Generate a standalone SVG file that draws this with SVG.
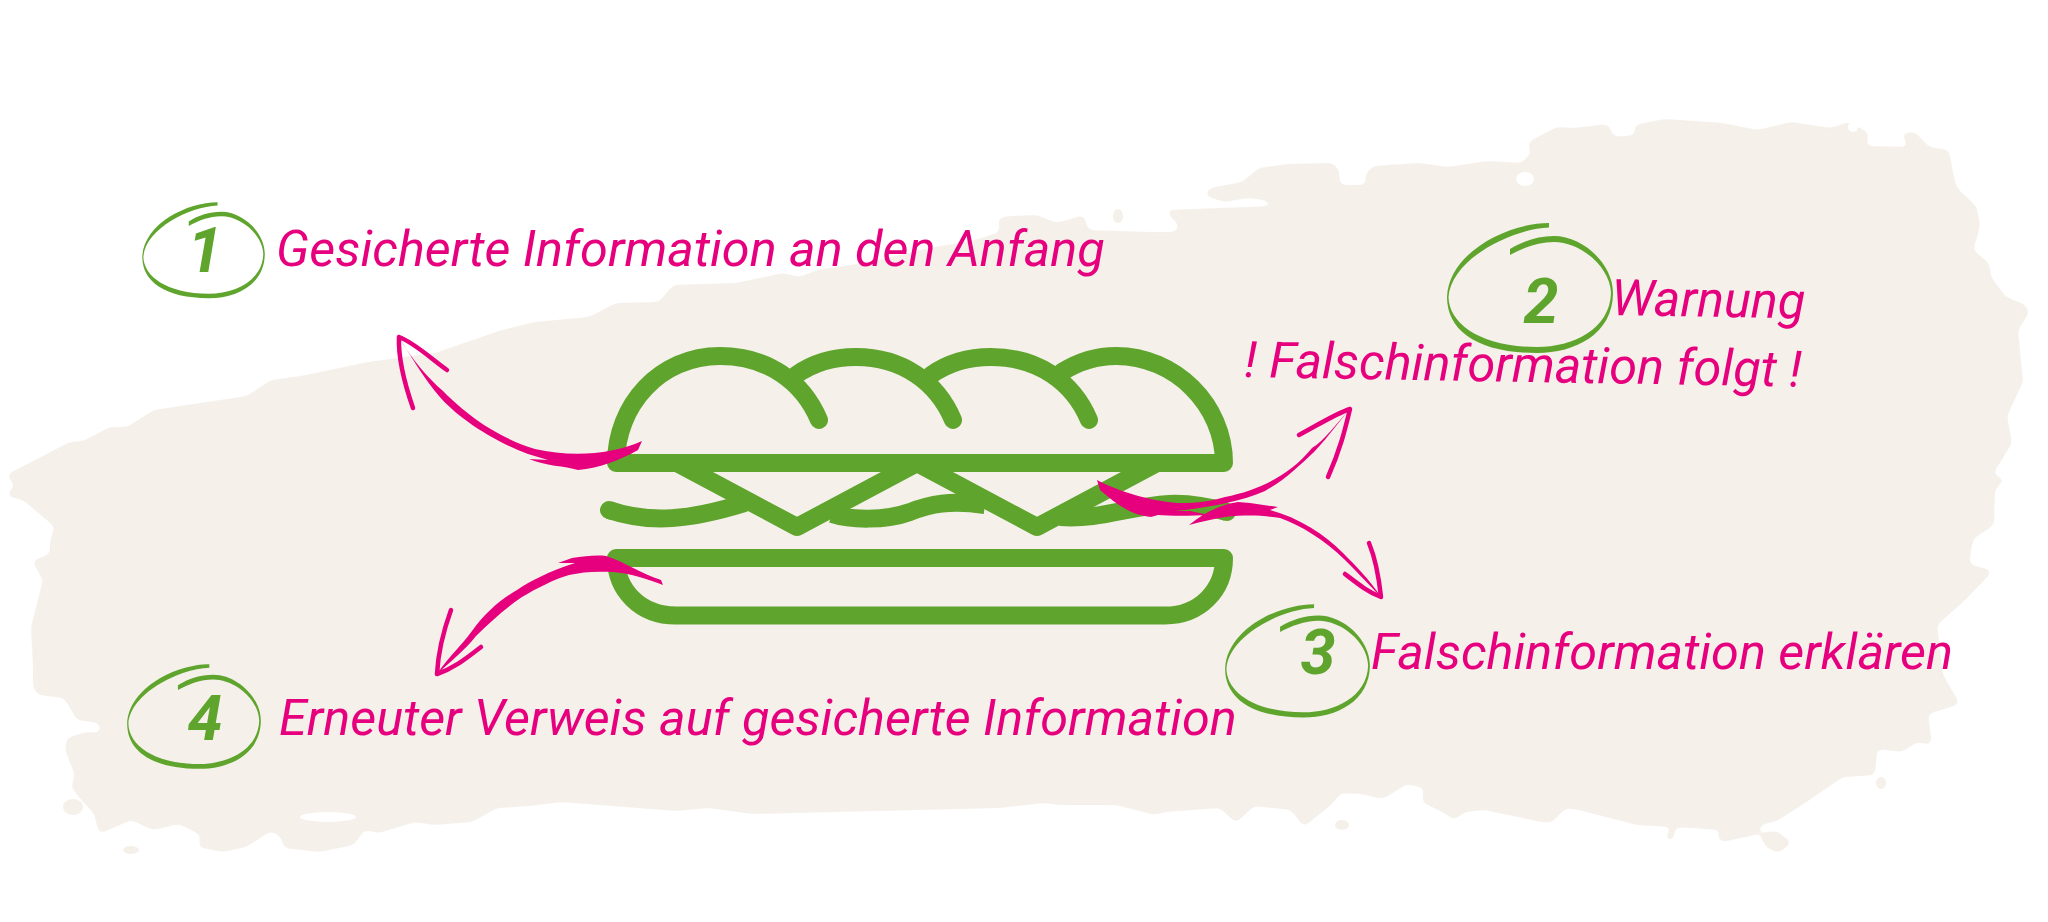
<svg xmlns="http://www.w3.org/2000/svg" xmlns:xlink="http://www.w3.org/1999/xlink" width="2048" height="922" viewBox="0 0 2048 922">
<style>
.lbl{font-family:"Roboto","Liberation Sans",sans-serif;font-style:italic;font-weight:400;font-size:50.4px;fill:#e6007e}
.num{font-family:"Roboto","Liberation Sans",sans-serif;font-style:italic;font-weight:700;font-size:63px;fill:#5fa52d;text-anchor:middle}
.ring{fill:#5fa52d}
.sw{fill:none;stroke:#5fa52d;stroke-width:18;stroke-linecap:round;stroke-linejoin:round}
.sb{stroke-linecap:butt}
.head{fill:none;stroke:#e6007e;stroke-width:4.5;stroke-linecap:round}
.blade{fill:#e6007e}
.bg{fill:#f5f0ea}
</style>
<defs>
<filter id="smooth" x="-2%" y="-2%" width="104%" height="104%" color-interpolation-filters="sRGB"><feGaussianBlur stdDeviation="3"/><feComponentTransfer><feFuncA type="linear" slope="8" intercept="-3.5"/></feComponentTransfer></filter>
<path id="ringshape" d="M101,-1 C60,-1 1,28 -1,73 C-1,107 30,129 89,129 C127,129 165,110 165,69 C165,40 135,12 106,12 C90,12 75,17 62,25 L62,31 C75,24 90,18 106,18 C132,18 162,42 163,69 C162,105 125,123 89,123 C33,123 1,100 0.5,73 C3,36 62,5 101,3.5 Z"/>
</defs>
<rect width="2048" height="922" fill="#ffffff"/>
<g id="background">
<g filter="url(#smooth)" class="bg">
<polygon points="1167,210 1276,206 1265,200 1247,198 1224,202 1204,195 1210,188 1242,182 1259,168 1287,164 1333,163 1339,170 1340,185 1366,185 1365,175 1373,166 1419,163 1448,167 1488,161 1522,163 1531,153 1528,142 1557,127 1574,128 1608,124 1614,137 1636,135 1634,125 1665,119 1723,123 1757,130 1791,122 1831,128 1849,122 1869,133 1866,146 1909,147 1901,133 1915,132 1929,147 1949,150 1953,173 1957,188 1977,207 1980,227 1973,250 1989,263 1991,277 2006,297 2026,305 2029,313 2018,330 2023,382 2007,416 2012,443 1993,474 2005,480 1995,489 1994,525 1973,539 1969,564 1993,571 1963,602 1937,625 1943,675 1960,704 1928,714 1932,745 1917,742 1902,752 1877,749 1875,775 1843,777 1805,803 1777,821 1760,825 1759,833 1777,831 1792,843 1778,853 1767,848 1759,834 1722,842 1717,838 1721,830 1676,827 1673,841 1664,839 1672,827 1637,825 1579,810 1566,808 1551,823 1542,822 1484,810 1465,812 1454,820 1444,813 1422,802 1424,788 1407,784 1383,799 1361,794 1341,793 1331,805 1312,820 1304,827 1291,810 1254,806 1236,823 1220,808 1165,812 1155,815 1116,805 1061,805 1043,803 1000,808 753,814 708,808 676,811 561,802 529,806 497,808 472,822 434,825 415,822 379,833 364,830 354,845 319,852 284,848 281,837 271,831 246,847 223,852 198,847 201,835 179,824 153,830 131,820 99,834 94,813 83,802 71,787 75,775 65,750 67,738 86,732 101,733 99,723 77,720 64,698 38,695 33,687 33,667 31,627 43,580 32,561 50,554 50,540 55,527 23,500 6,496 15,485 6,475 70,442 83,441 110,427 127,427 154,410 247,396 271,380 301,376 368,362 435,353 502,330 535,322 589,317 616,303 659,302 673,285 736,283 783,273 800,277 817,270 870,262 930,248 975,240 1000,232 998,218 1010,216 1037,215 1057,223 1084,215 1088,230 1150,232 1176,232 1179,225 1167,213"/>
</g>
<ellipse cx="1525" cy="179" rx="9" ry="7" fill="#fff"/>
<ellipse cx="1853" cy="127" rx="5" ry="5" fill="#fff"/>
<ellipse cx="328" cy="817" rx="28" ry="5" fill="#fff"/>
<ellipse cx="1118" cy="216" rx="5" ry="7" class="bg"/>
<ellipse cx="1881" cy="783" rx="5" ry="6" class="bg"/>
<ellipse cx="1342" cy="825" rx="7" ry="5" class="bg"/>
<ellipse cx="73" cy="807" rx="10" ry="8" class="bg"/>
<ellipse cx="131" cy="850" rx="8" ry="4" class="bg"/>
</g>
<g id="sandwich">
<path class="sw" d="M819,420 C803,382 768,356 720,356 C660,356 616,405 616,463 H1224 C1224,405 1175,356 1116,356 C1097,356 1078,362 1062,372"/>
<path class="sw" d="M953,420 C937,382 902,357 856,357 C833,357 813,363 796,375 M1089,420 C1073,382 1038,357 991,357 C968,357 948,363 931,375"/>
<path class="sw" d="M677,463 L797,527 L917,463 L1037,527 L1157,463"/>
<path class="sw sb" d="M609,510 C650,524 690,520 745,503"/>
<path class="sw" d="M609,510 L612,511"/>
<path class="sw sb" d="M832,514 C850,520 885,521 910,512 C930,504 950,500 985,505"/>
<path class="sw sb" d="M1060,517 C1100,520 1130,506 1169,504 C1190,503 1210,507 1227,512"/>
<path class="sw" d="M1224,511 L1227,512"/>
<path class="sw" d="M616,558 H1224 C1224,590 1200,615.5 1165,615.5 H676 C640,615.5 616,590 616,558 Z"/>
</g>
<g id="connectors">
<g id="arrow-1">
<path class="blade" d="M399,337 C412,360 428,378 443,391 C460,408 490,435 535,449 C570,457 612,455 642,441 L638,450 C620,460 600,468 578,470 C565,466 545,466 529,459 L548,460 L528,454 C490,440 455,415 439,396 C425,380 410,355 399,337Z"/>
<path class="head" d="M399,337 C415,343 430,358 447,370 M399,337 C398,360 405,385 413,408"/>
</g>
<g id="arrow-2">
<path class="blade" d="M1350,409 C1335,425 1325,440 1312,448 C1290,475 1260,490 1225,497 C1205,503 1190,503 1178,503 C1160,502 1125,495 1097,480 L1100,490 C1115,503 1130,515 1151,517 L1158,515 C1170,516 1190,516 1209,515 L1190,511 L1175,511 C1205,508 1240,502 1265,491 C1285,480 1300,465 1314,452 C1330,435 1340,420 1350,409Z"/>
<path class="head" d="M1350,409 C1335,414 1318,425 1299,435 M1350,409 C1345,430 1340,450 1328,477"/>
</g>
<g id="arrow-3">
<path class="blade" d="M1381,597 C1370,580 1355,565 1343,553 C1325,535 1300,518 1270,510 L1278,507 L1250,503 L1238,502 C1220,505 1205,512 1189,525 C1200,522 1212,519 1225,517 C1245,515 1260,515 1280,518 C1300,525 1325,540 1345,560 C1360,575 1372,588 1381,597Z"/>
<path class="head" d="M1381,597 C1379,578 1376,560 1369,543 M1381,597 C1368,592 1358,584 1345,574"/>
</g>
<g id="arrow-4">
<path class="blade" d="M437,674 C450,655 462,645 472,631 C486,612 500,600 517,590 C532,580 548,572 575,563 L558,563 L572,558 C585,556 597,555 606,556 C625,562 640,573 661,580 L663,585 C650,580 630,573 613,572 C595,571 582,572 569,575 C555,579 537,588 522,597 C507,607 490,622 476,636 C465,650 450,662 437,674Z"/>
<path class="head" d="M437,674 C438,655 443,632 451,610 M437,674 C455,668 468,657 481,647"/>
</g>
</g>
<g id="node-1">
<use xlink:href="#ringshape" href="#ringshape" class="ring" transform="translate(143,203) scale(.738)"/>
<text class="num" x="205" y="272">1</text>
<text class="lbl" x="276" y="266">Gesicherte Information an den Anfang</text>
</g>
<g id="node-2">
<use xlink:href="#ringshape" href="#ringshape" class="ring" transform="translate(1448,224)"/>
<text class="num" x="1541" y="323">2</text>
<text class="lbl" transform="rotate(1 1611 315)" x="1611" y="315">Warnung</text>
<text class="lbl" transform="rotate(1 1244 377)" x="1244" y="377">! Falschinformation folgt !</text>
</g>
<g id="node-3">
<use xlink:href="#ringshape" href="#ringshape" class="ring" transform="translate(1226,605) scale(.872)"/>
<text class="num" x="1318" y="674">3</text>
<text class="lbl" x="1371" y="669">Falschinformation erklären</text>
</g>
<g id="node-4">
<use xlink:href="#ringshape" href="#ringshape" class="ring" transform="translate(128,665) scale(.805)"/>
<text class="num" x="205" y="740">4</text>
<text class="lbl" x="279" y="735">Erneuter Verweis auf gesicherte Information</text>
</g>
</svg>
